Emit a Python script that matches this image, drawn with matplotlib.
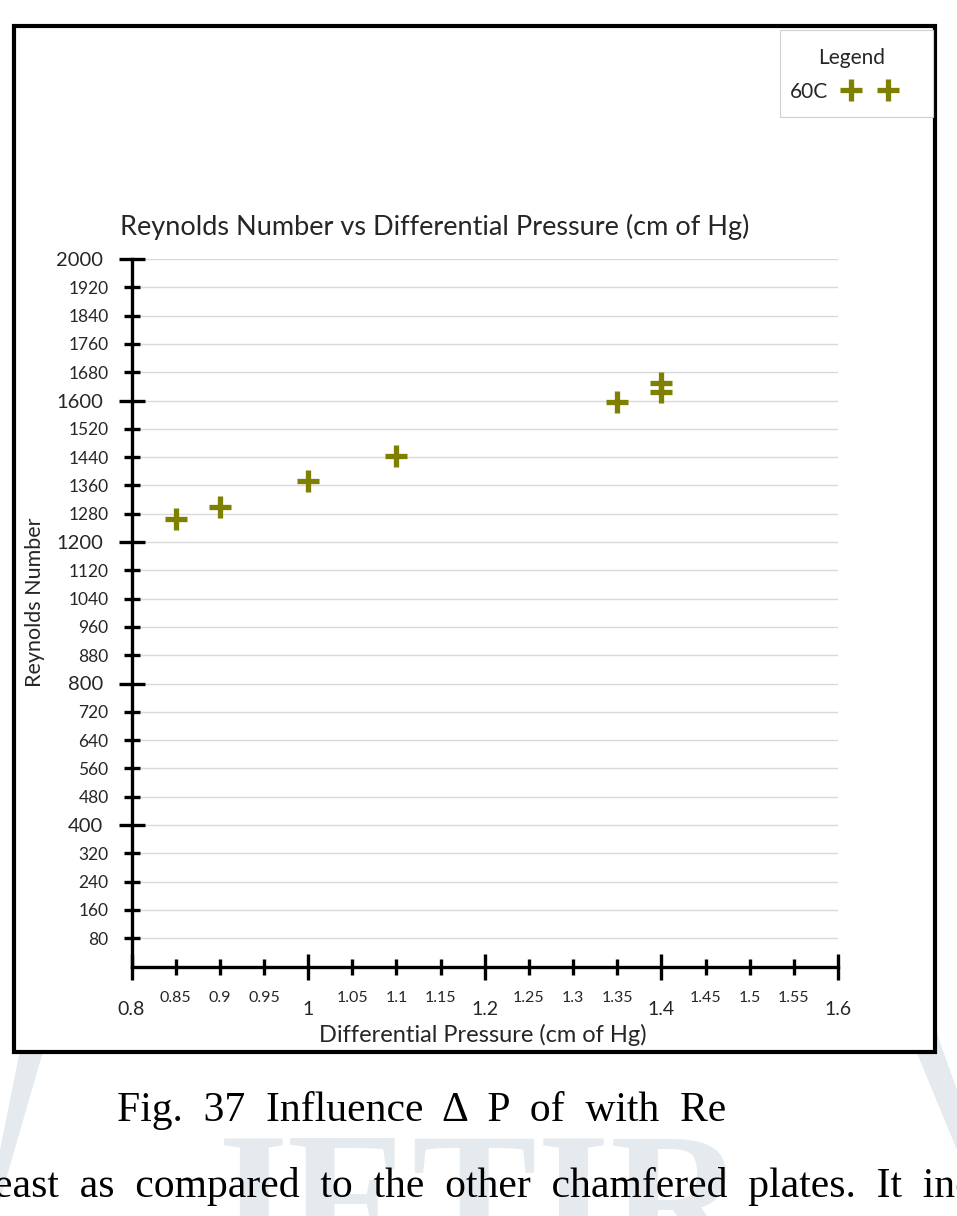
import matplotlib
matplotlib.use("Agg")
import matplotlib.pyplot as plt
from matplotlib.patches import Rectangle, Polygon
from matplotlib.lines import Line2D

# ---------------- data ----------------
pressure = [0.85, 0.90, 1.00, 1.10, 1.35, 1.40, 1.40]
reynolds = [1266, 1300, 1373, 1443, 1595, 1624, 1650]
series_name = "60C"

title = "Reynolds Number vs Differential Pressure (cm of Hg)"
xlabel = "Differential Pressure (cm of Hg)"
ylabel = "Reynolds Number"
caption = "Fig.  37  Influence  Δ  P  of  with  Re"
body_line = "east  as  compared  to  the  other  chamfered  plates.  It  inc"
watermark = "JETIR"

x_major = [0.8, 1.0, 1.2, 1.4, 1.6]
x_major_labels = ["0.8", "1", "1.2", "1.4", "1.6"]
x_minor = [0.85, 0.9, 0.95, 1.05, 1.1, 1.15, 1.25, 1.3, 1.35, 1.45, 1.5, 1.55]
x_minor_labels = ["0.85", "0.9", "0.95", "1.05", "1.1", "1.15", "1.25", "1.3", "1.35",
                  "1.45", "1.5", "1.55"]
y_major = [400, 800, 1200, 1600, 2000]
y_minor = [80, 160, 240, 320, 480, 560, 640, 720, 880, 960, 1040, 1120,
           1280, 1360, 1440, 1520, 1680, 1760, 1840, 1920]

OLIVE = "#7f7f00"
TXT = "#262626"
W, H = 957, 1216
FONT = "Lato"

fig = plt.figure(figsize=(W / 100, H / 100), dpi=100)

def fx(px):
    return px / W

def fy(py):
    return 1 - py / H

# ---------------- watermark (background) ----------------
wm_col = "#e4eaed"
fig.text(fx(470), fy(1262), watermark, fontsize=135, family="Liberation Serif",
         fontweight="bold", color=wm_col, ha="center", va="baseline", zorder=0)
fig.patches.append(Polygon([(fx(0), fy(1200)), (fx(0), fy(1150)), (fx(30), fy(1000)), (fx(58), fy(1000))],
                           closed=True, transform=fig.transFigure, facecolor=wm_col,
                           edgecolor="none", zorder=0))
fig.patches.append(Polygon([(fx(957), fy(1150)), (fx(957), fy(1090)), (fx(925), fy(1000)), (fx(895), fy(1000))],
                           closed=True, transform=fig.transFigure, facecolor=wm_col,
                           edgecolor="none", zorder=0))

# ---------------- chart frame ----------------
fig.patches.append(Rectangle((fx(14), fy(1052)), fx(921), 1026 / H, transform=fig.transFigure,
                             facecolor="white", edgecolor="black", linewidth=3.0, zorder=1))

# ---------------- axes ----------------
ax_l, ax_r, ax_t, ax_b = 131.5, 838, 259, 966.5
ax = fig.add_axes([fx(ax_l), fy(ax_b), (ax_r - ax_l) / W, (ax_b - ax_t) / H], zorder=2)
ax.set_facecolor("none")
ax.set_xlim(0.8, 1.6)
ax.set_ylim(0, 2000)

for s in ["top", "right"]:
    ax.spines[s].set_visible(False)
for s in ["left", "bottom"]:
    ax.spines[s].set_linewidth(2.4)
    ax.spines[s].set_color("black")

ax.set_xticks(x_major)
ax.set_xticks(x_minor, minor=True)
ax.set_yticks(y_major)
ax.set_yticks(y_minor, minor=True)

ax.set_xticklabels(x_major_labels, fontsize=14, family=FONT, color=TXT)
ax.set_xticklabels(x_minor_labels, minor=True, fontsize=11.5, family=FONT, color=TXT)
ax.set_yticklabels([str(v) for v in y_major], fontsize=14.5, family=FONT, color=TXT)
ax.set_yticklabels([str(v) for v in y_minor], minor=True, fontsize=12.5, family=FONT, color=TXT)

ax.tick_params(axis="both", which="major", direction="inout", length=19, width=2.4, color="black")
ax.tick_params(axis="both", which="minor", direction="inout", length=11, width=2.4, color="black")
ax.tick_params(axis="y", which="major", pad=11)
ax.tick_params(axis="y", which="minor", pad=11)
ax.tick_params(axis="x", which="major", pad=15)
ax.tick_params(axis="x", which="minor", pad=12)

# horizontal gridlines
for v in y_major + y_minor:
    ax.axhline(v, color="#d9d9d9", linewidth=1.0, zorder=0.5)

ax.plot(pressure, reynolds, linestyle="none", marker="+", markersize=16,
        markeredgewidth=3.8, color=OLIVE, zorder=3, clip_on=False)

ax.set_xlabel(xlabel, fontsize=17, family=FONT, color=TXT)
ax.set_ylabel(ylabel, fontsize=15.5, family=FONT, color=TXT)
ax.xaxis.set_label_coords((483 - ax_l) / (ax_r - ax_l), -(1035 - ax_b) / (ax_b - ax_t))
ax.yaxis.set_label_coords(-(ax_l - 35) / (ax_r - ax_l), (ax_b - 602) / (ax_b - ax_t))
ax.xaxis.label.set_va("center")
ax.yaxis.label.set_va("center")

fig.text(fx(120), fy(227), title, fontsize=19.5, family=FONT, color=TXT,
         ha="left", va="center", zorder=3)

# ---------------- legend box ----------------
fig.patches.append(Rectangle((fx(780), fy(117)), fx(153), 87 / H, transform=fig.transFigure,
                             facecolor="white", edgecolor="#d0d0d0", linewidth=0.8, zorder=3))
fig.text(fx(852), fy(58), "Legend", fontsize=15, family=FONT, color=TXT,
         ha="center", va="center", zorder=4)
fig.text(fx(790), fy(92), series_name, fontsize=15, family=FONT, color=TXT,
         ha="left", va="center", zorder=4)
for xm in (851, 888):
    fig.lines.append(Line2D([fx(xm)], [fy(90)], transform=fig.transFigure, marker="+",
                            markersize=16, markeredgewidth=3.8, color=OLIVE, linestyle="none",
                            zorder=4))

# ---------------- caption & body text ----------------
fig.text(fx(117), fy(1110), caption, fontsize=30, family="Liberation Serif",
         color="black", ha="left", va="center", zorder=3)
fig.text(fx(-6), fy(1187), body_line, fontsize=30, family="Liberation Serif",
         color="black", ha="left", va="center", zorder=3)

fig.savefig("out.png", dpi=100)
